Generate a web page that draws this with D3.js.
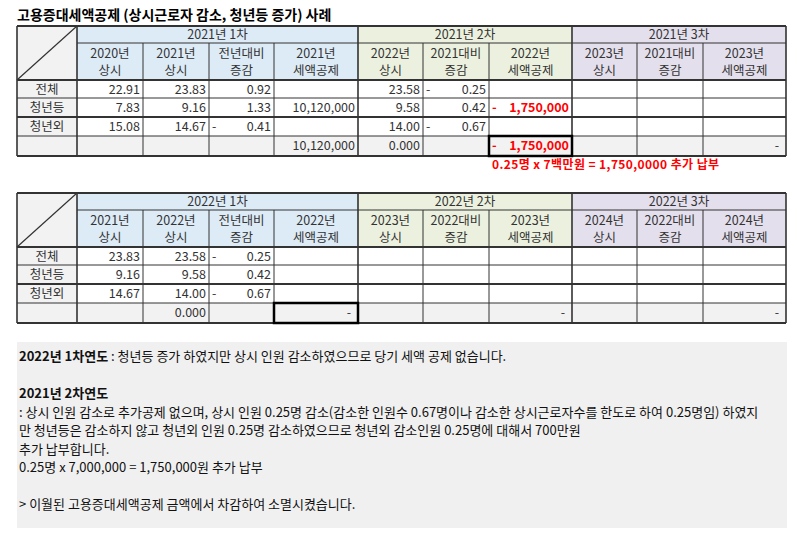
<!DOCTYPE html>
<html><head><meta charset="utf-8">
<script src="https://cdn.jsdelivr.net/npm/d3@7"></script>
<style>body{margin:0;background:#fff}svg{font-family:"Noto Sans CJK KR","Noto Sans",sans-serif}</style>
</head><body><svg id="c" width="800" height="541"></svg>
<script>
const title = "고용증대세액공제 (상시근로자 감소, 청년등 증가) 사례";
const rowLabels = ["전체","청년등","청년외",""];
const t1Groups = ["2021년 1차","2021년 2차","2021년 3차"];
const t1Sub = [["2020년","상시"],["2021년","상시"],["전년대비","증감"],["2021년","세액공제"],["2022년","상시"],["2021대비","증감"],["2022년","세액공제"],["2023년","상시"],["2021대비","증감"],["2023년","세액공제"]];
const t1Rows = [
  ["22.91","23.83","0.92","","23.58","-0.25","","","",""],
  ["7.83","9.16","1.33","10,120,000","9.58","0.42","-1,750,000","","",""],
  ["15.08","14.67","-0.41","","14.00","-0.67","","","",""],
  ["","","","10,120,000","0.000","","-1,750,000","","","-"]
];
const t1Red = [[1,6],[3,6]];
const t1Box = [3,6];
const t2Groups = ["2022년 1차","2022년 2차","2022년 3차"];
const t2Sub = [["2021년","상시"],["2022년","상시"],["전년대비","증감"],["2022년","세액공제"],["2023년","상시"],["2022대비","증감"],["2023년","세액공제"],["2024년","상시"],["2022대비","증감"],["2024년","세액공제"]];
const t2Rows = [
  ["23.83","23.58","-0.25","","","","","","",""],
  ["9.16","9.58","0.42","","","","","","",""],
  ["14.67","14.00","-0.67","","","","","","",""],
  ["","0.000","","-","","","-","","","-"]
];
const t2Red = [];
const t2Box = [3,3];
const note = "0.25명 x 7백만원 = 1,750,0000 추가 납부";
const boxLines = [
  [["2022년 1차연도",true],[" : 청년등 증가 하였지만 상시 인원 감소하였으므로 당기 세액 공제 없습니다.",false]],
  [],
  [["2021년 2차연도",true]],
  [[": 상시 인원 감소로 추가공제 없으며, 상시 인원 0.25명 감소(감소한 인원수 0.67명이나 감소한 상시근로자수를 한도로 하여 0.25명임) 하였지",false]],
  [["만 청년등은 감소하지 않고 청년외 인원 0.25명 감소하였으므로 청년외 감소인원 0.25명에 대해서 700만원",false]],
  [["추가 납부합니다.",false]],
  [["0.25명 x 7,000,000 = 1,750,000원 추가 납부",false]],
  [],
  [["> 이월된 고용증대세액공제 금액에서 차감하여 소멸시켰습니다.",false]]
];

const svg = d3.select("#c");
const colEdges = [17,77,143,209,274,358,423,489,572,637,703,786];
const groupColors = ["#DDEBF7","#EBF1DE","#E4DFEC"];

svg.append("text").attr("x",17).attr("y",20).attr("font-size",14).attr("font-weight","bold").attr("fill","#000").text(title);

function table(top, groups, sub, rows, red, box) {
  const g = svg.append("g");
  const rY = [top, top+17, top+54, top+72, top+91, top+110, top+130];
  const L = colEdges[0], R = colEdges[11];
  g.append("rect").attr("x",L).attr("y",rY[0]).attr("width",colEdges[1]-L).attr("height",rY[2]-rY[0]).attr("fill","#F2F2F2");
  const gb = [[1,5],[5,8],[8,11]];
  gb.forEach((b,i)=>{
    g.append("rect").attr("x",colEdges[b[0]]).attr("y",rY[0]).attr("width",colEdges[b[1]]-colEdges[b[0]]).attr("height",rY[2]-rY[0]).attr("fill",groupColors[i]);
    g.append("text").attr("x",(colEdges[b[0]]+colEdges[b[1]])/2).attr("y",rY[0]+13).attr("text-anchor","middle").attr("font-size",12.5).attr("fill","#333").text(groups[i]);
    g.append("line").attr("x1",colEdges[b[0]]).attr("x2",colEdges[b[1]]).attr("y1",rY[1]).attr("y2",rY[1]).attr("stroke","#333").attr("stroke-width",1);
  });
  for (let r=0;r<4;r++){
    g.append("rect").attr("x",L).attr("y",rY[2+r]).attr("width",colEdges[1]-L).attr("height",rY[3+r]-rY[2+r]).attr("fill","#F2F2F2");
    if (r==3) g.append("rect").attr("x",colEdges[1]).attr("y",rY[5]).attr("width",R-colEdges[1]).attr("height",rY[6]-rY[5]).attr("fill","#F2F2F2");
    g.append("text").attr("x",(L+colEdges[1])/2).attr("y",rY[2+r]+14).attr("text-anchor","middle").attr("font-size",12.5).attr("fill","#333").text(rowLabels[r]);
  }
  sub.forEach((s,c)=>{
    const cx=(colEdges[c+1]+colEdges[c+2])/2;
    g.append("text").attr("x",cx).attr("y",rY[1]+15).attr("text-anchor","middle").attr("font-size",12.5).attr("fill","#333").text(s[0]);
    g.append("text").attr("x",cx).attr("y",rY[1]+32).attr("text-anchor","middle").attr("font-size",12.5).attr("fill","#333").text(s[1]);
  });
  rows.forEach((row,r)=>{
    row.forEach((v,c)=>{
      if(!v) return;
      const isRed = red.some(p=>p[0]==r&&p[1]==c);
      const col = isRed?"#FF0000":"#333";
      const fw = isRed?"bold":"normal";
      const xr = colEdges[c+2]-3, xl = colEdges[c+1]+3, yy = rY[2+r]+14;
      if (v==="-") { g.append("text").attr("x",xr-4).attr("y",yy).attr("text-anchor","end").attr("font-size",12.5).attr("fill",col).text("-"); return; }
      let txt=v;
      if (v[0]==="-"){ txt=v.slice(1); g.append("text").attr("x",xl).attr("y",yy).attr("font-size",12.5).attr("font-weight",fw).attr("fill",col).text("-"); }
      g.append("text").attr("x",xr).attr("y",yy).attr("text-anchor","end").attr("font-size",12.5).attr("font-weight",fw).attr("fill",col).text(txt);
    });
  });
  colEdges.forEach((cx,i)=>{
    const thick = [0,1,5,8,11].includes(i);
    g.append("line").attr("x1",cx).attr("x2",cx).attr("y1",thick?rY[0]:rY[1]).attr("y2",rY[6]).attr("stroke","#333").attr("stroke-width",thick?1.6:1);
  });
  rY.forEach((yy,i)=>{
    if(i==1) return;
    g.append("line").attr("x1",L).attr("x2",R).attr("y1",yy).attr("y2",yy).attr("stroke","#333").attr("stroke-width",[0,2,4,6].includes(i)?1.8:1);
  });
  g.append("line").attr("x1",L).attr("y1",rY[2]).attr("x2",colEdges[1]).attr("y2",rY[0]).attr("stroke","#333").attr("stroke-width",1.2);
  const bx=box[1]+1;
  g.append("rect").attr("x",colEdges[bx]).attr("y",rY[2+box[0]]).attr("width",colEdges[bx+1]-colEdges[bx]).attr("height",rY[3+box[0]]-rY[2+box[0]]).attr("fill","none").attr("stroke","#000").attr("stroke-width",2.5);
}
table(26, t1Groups, t1Sub, t1Rows, t1Red, t1Box);
table(193, t2Groups, t2Sub, t2Rows, t2Red, t2Box);

svg.append("text").attr("x",492).attr("y",169).attr("font-size",12).attr("font-weight","bold").attr("letter-spacing",0.4).attr("fill","#FF0000").text(note);

svg.append("rect").attr("x",17).attr("y",342).attr("width",770).attr("height",186).attr("fill","#F0F0F0");
const lineY = d3.scaleLinear().domain([0,1]).range([361,379.5]);
boxLines.forEach((ln,i)=>{
  if(!ln.length) return;
  const t = svg.append("text").attr("x",19).attr("y",lineY(i)).attr("font-size",13).attr("fill","#111");
  ln.forEach(s=>t.append("tspan").attr("font-weight",s[1]?"bold":"normal").text(s[0]));
});
</script></body></html>
